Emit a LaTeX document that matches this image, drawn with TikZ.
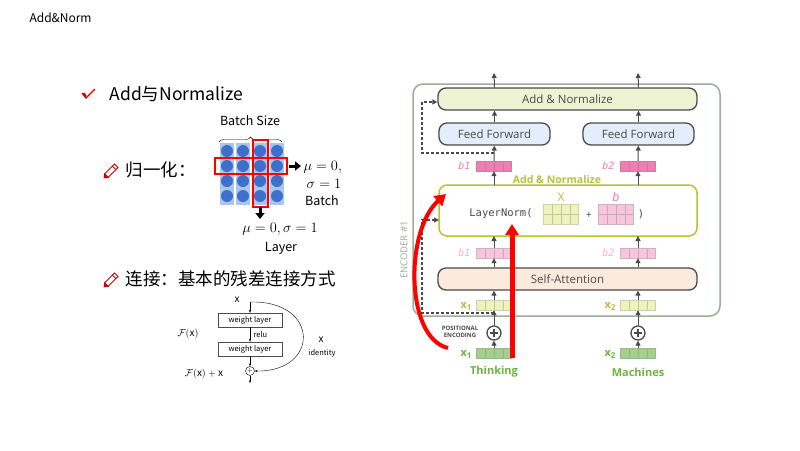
\documentclass[tikz,border=0pt]{standalone}
\usepackage{fontspec}
\setmainfont{Noto Sans CJK SC}
\newfontfamily\osans{Open Sans}
\newfontfamily\dmono{DejaVu Sans Mono}
\usetikzlibrary{arrows.meta,calc,decorations.pathreplacing}
\definecolor{tx}{HTML}{4A4A4A}
\definecolor{encg}{HTML}{9BB09B}
\definecolor{anfill}{HTML}{EDF3D3}
\definecolor{fffill}{HTML}{E3EEFA}
\definecolor{safill}{HTML}{FCEADD}
\definecolor{lnbord}{HTML}{B3C43A}
\definecolor{pinkd}{HTML}{EE7FB0}
\definecolor{pinkl}{HTML}{F8C6DC}
\definecolor{yell}{HTML}{EEF3BE}
\definecolor{grn}{HTML}{A5CF8E}
\definecolor{grnt}{HTML}{6DB33F}
\definecolor{olive}{HTML}{C4B44A}
\definecolor{colb}{HTML}{A9C6EC}
\definecolor{dotb}{HTML}{3E6FCB}
\tikzset{
 x=1pt,y=-1pt,
 ar/.style={-{Triangle[width=5pt,length=5pt]},tx,line width=1pt},
 dsh/.style={ar,line width=1.3pt,dash pattern=on 3pt off 2pt},
 box/.style={draw=tx,line width=1.3pt,rounded corners=8pt,minimum height=22pt,inner sep=0pt,font=\osans\fontsize{11.5}{11.5}\selectfont,text=tx},
 vec/.style={draw=#1!70!gray,fill=#1,minimum width=35pt,minimum height=10pt,inner sep=0pt,
   path picture={\foreach \i in {1,2,3}{\draw[#1!60!gray] ($(path picture bounding box.north west)!\i/4!(path picture bounding box.north east)$) -- ($(path picture bounding box.south west)!\i/4!(path picture bounding box.south east)$);}}},
 mat/.style={vec=#1,minimum height=20pt,
   path picture={\foreach \i in {1,2,3}{\draw[#1!60!gray] ($(path picture bounding box.north west)!\i/4!(path picture bounding box.north east)$) -- ($(path picture bounding box.south west)!\i/4!(path picture bounding box.south east)$);}
   \draw[#1!60!gray] (path picture bounding box.west) -- (path picture bounding box.east);}},
 lab/.style={font=\dmono\fontsize{10}{10}\selectfont\itshape,anchor=east},
 xlab/.style={anchor=east,font=\osans\bfseries\fontsize{11}{11}\selectfont},
 wl/.style={draw=black!70,minimum width=64pt,minimum height=14pt,inner sep=0pt,font=\fontsize{7.5}{7.5}\selectfont},
 pl/.style={circle,draw=tx,line width=1.3pt,minimum size=14pt,inner sep=0pt,path picture={\draw[tx,line width=1.3pt] ($(path picture bounding box.center)+(-4,0)$)--+(8,0) ($(path picture bounding box.center)+(0,-4)$)--+(0,8);}},
 redar/.style={red,line width=5pt,-{Triangle[width=13pt,length=11pt]}}
}
\begin{document}
\begin{tikzpicture}
\useasboundingbox[fill=white] (0,0) rectangle (800,450);
% ---------- left ----------
\node[anchor=west,font=\fontsize{12}{12}\selectfont] (title) at (26,18) {Add\&Norm};
\draw[red!80!black,line width=1.3pt] (82,93) -- (86,98) -- (95,89) (84,93)--(86,96);
\node[anchor=west,font=\fontsize{17.5}{17.5}\selectfont] (h1) at (106,94) {Add与Normalize};
\node[font=\fontsize{12.5}{12.5}\selectfont] (bs) at (250,121) {Batch Size};
\draw[decorate,decoration={brace,amplitude=5pt}] (219,142) -- (282,142);
\foreach \c [count=\i] in {227,243,260,277}{
  \fill[colb] (\c-7,143) rectangle (\c+7,205);
  \foreach \r in {151,166,181,196} \fill[dotb] (\c,\r) circle (6);
}
\draw[red,line width=1.3pt] (215,158) rectangle (287,174);
\draw[red,line width=1.3pt] (253,140) rectangle (268,207);
\draw[-{Triangle[width=9pt,length=6pt]},line width=3pt] (289,166) -- (301,166);
\node[anchor=west,font=\fontsize{15}{15}\selectfont] (mu1) at (300,167) {$\mu=0,$};
\node[font=\fontsize{15}{15}\selectfont] (sg1) at (324,184) {$\sigma=1$};
\node[font=\fontsize{12.5}{12.5}\selectfont] (bt) at (322,201) {Batch};
\draw[-{Triangle[width=9pt,length=6pt]},line width=3pt] (260,207) -- (260,219);
\node[font=\fontsize{15}{15}\selectfont] (mu2) at (280,229) {$\mu=0,\sigma=1$};
\node[font=\fontsize{12.5}{12.5}\selectfont] (ly) at (281,248) {Layer};
\foreach \yy in {170,279}{
 \begin{scope}[shift={(112,\yy)},rotate=45]
  \draw[red!80!black,line width=1pt,fill=white] (-8,-2.5) rectangle (6,2.5);
  \draw[red!80!black,line width=1pt,fill=red!80!black] (-8,-2.5)--(-11,0)--(-8,2.5)--cycle;
  \draw[red!80!black,line width=1pt] (3,-2.5)--(3,2.5);
 \end{scope}}
\node[anchor=west,font=\fontsize{17.5}{17.5}\selectfont] (h2) at (122,170) {归一化：};
\node[anchor=west,font=\fontsize{17.5}{17.5}\selectfont] (h3) at (122,279) {连接：基本的残差连接方式};
% residual
\node[font=\fontsize{10}{10}\selectfont] (xin) at (237,300) {$\mathrm{x}$};
\coordinate (top) at (250,302);
\node[wl] (w1) at (250,320) {weight layer};
\node[wl] (w2) at (250,349) {weight layer};
\node[circle,draw,inner sep=0pt,minimum size=9pt,font=\fontsize{7}{7}\selectfont] (add) at (250,371) {$+$};
\coordinate (out) at (250,383);
\draw[-{Stealth[length=3pt]}] (top) -- (w1);
\draw[-{Stealth[length=3pt]}] (w1) -- (w2) node[midway,right,font=\fontsize{7.5}{7.5}\selectfont]{relu};
\draw[-{Stealth[length=3pt]}] (w2) -- (add);
\draw[-{Stealth[length=3pt]}] (add) -- (out);
\draw[-{Stealth[length=3pt]}] (top) .. controls (320,300) and (320,372) .. (add.east);
\node[font=\fontsize{10}{10}\selectfont] (fx) at (188,334) {$\mathcal{F}(\mathrm{x})$};
\node[font=\fontsize{10}{10}\selectfont] (fxx) at (204,374) {$\mathcal{F}(\mathrm{x})+\mathrm{x}$};
\node[font=\fontsize{10}{10}\selectfont] (xid) at (321,340) {$\mathrm{x}$};
\node[font=\fontsize{7.5}{7.5}\selectfont] (idt) at (322,353) {identity};
% ---------- right ----------
\draw[encg,line width=1.5pt,rounded corners=10pt] (413,84) rectangle (720,316);
\node[rotate=90,text=encg!90!gray,font=\osans\fontsize{9.5}{9.5}\selectfont] (enc) at (404,250) {ENCODER \#1};
\node[box,fill=anfill,minimum width=259pt] (an) at (567.5,99) {Add \& Normalize};
\node[box,fill=fffill,minimum width=111pt] (ff1) at (494.5,134) {Feed Forward};
\node[box,fill=fffill,minimum width=111pt] (ff2) at (638.5,134) {Feed Forward};
\node[vec=pinkd] (b1d) at (494,166) {}; \node[lab,text=pinkd] at (474,166) {b1};
\node[vec=pinkd] (b2d) at (638,166) {}; \node[lab,text=pinkd] at (618,166) {b2};
\node[text=lnbord,font=\osans\bfseries\fontsize{10.5}{10.5}\selectfont] (ant) at (557,180) {Add \& Normalize};
\draw[lnbord,line width=1.5pt,rounded corners=8pt,fill=white] (439,185) rectangle (697,236);
\coordinate (lnL) at (439,220);
\coordinate (lnT1) at (494,185); \coordinate (lnT2) at (638,185);
\coordinate (lnB1) at (494,236); \coordinate (lnB2) at (638,236);
\node[font=\dmono\fontsize{10.5}{10.5}\selectfont,text=tx] (lnt) at (501,214) {LayerNorm(};
\node[mat=yell] (mx) at (561,214) {};
\node[text=olive,font=\osans\fontsize{12}{12}\selectfont] (xl) at (561,197) {X};
\node[text=tx,font=\fontsize{10}{10}\selectfont] (plus) at (589,215) {+};
\node[mat=pinkl] (mb) at (616,214) {};
\node[text=pinkd,font=\dmono\itshape\fontsize{12}{12}\selectfont] (bl) at (616,197) {b};
\node[text=tx,font=\dmono\fontsize{10.5}{10.5}\selectfont] (rp) at (641,214) {)};
\node[vec=pinkl] (b1l) at (494,253) {}; \node[lab,text=pinkl!70!pinkd] at (474,253) {b1};
\node[vec=pinkl] (b2l) at (638,253) {}; \node[lab,text=pinkl!70!pinkd] at (618,253) {b2};
\node[box,fill=safill,minimum width=259pt] (sa) at (567.5,279) {Self-Attention};
\node[vec=yell] (x1y) at (494,305) {}; \node[xlab,text=olive] at (475,306) {x\raisebox{-2pt}{\fontsize{8}{8}\selectfont 1}};
\node[vec=yell] (x2y) at (638,305) {}; \node[xlab,text=olive] at (619,306) {x\raisebox{-2pt}{\fontsize{8}{8}\selectfont 2}};
\node[pl] (p1) at (494,333) {};
\node[pl] (p2) at (638,333) {};
\node[align=center,text=tx,font=\osans\bfseries\fontsize{6}{7}\selectfont] (pe) at (460,332) {POSITIONAL\\ENCODING};
\node[vec=grn] (x1g) at (494,353) {}; \node[xlab,text=grnt] at (475,354) {x\raisebox{-2pt}{\fontsize{8}{8}\selectfont 1}};
\node[vec=grn] (x2g) at (638,353) {}; \node[xlab,text=grnt] at (619,354) {x\raisebox{-2pt}{\fontsize{8}{8}\selectfont 2}};
\node[text=grnt,font=\osans\bfseries\fontsize{11}{11}\selectfont] (th) at (494,372) {Thinking};
\node[text=grnt,font=\osans\bfseries\fontsize{11}{11}\selectfont] (ma) at (638,372) {Machines};
\coordinate (o1) at (494,73); \coordinate (o2) at (638,73);
\foreach \c in {1,2}{
 \draw[ar] (x\c g) -- (p\c);
 \draw[ar] (p\c) -- (x\c y);
 \draw[ar] (x\c y) -- (sa.south -| x\c y);
 \draw[ar] (sa.north -| x\c y) -- (b\c l);
 \draw[ar] (b\c l) -- (lnB\c);
 \draw[ar] (lnT\c) -- (b\c d);
 \draw[ar] (b\c d) -- (ff\c);
 \draw[ar] (ff\c) -- (an.south -| ff\c);
 \draw[ar] (an.north -| ff\c) -- (o\c);
}
\draw[dsh] (494,313) -- (422,313) -- (422,220) -- (lnL);
\draw[dsh] (494,153) -- (422,153) -- (422,102) -- (an.west |- 0,102);
% red arrows
\coordinate (r1s) at (512,358); \coordinate (r1e) at (512,224);
\draw[redar] (r1s) -- (r1e);
\coordinate (r2s) at (448,348); \coordinate (r2e) at (446,194);
\draw[redar,line width=4pt] (r2s) .. controls (405,338) and (405,230) .. (r2e);
\end{tikzpicture}
\end{document}
